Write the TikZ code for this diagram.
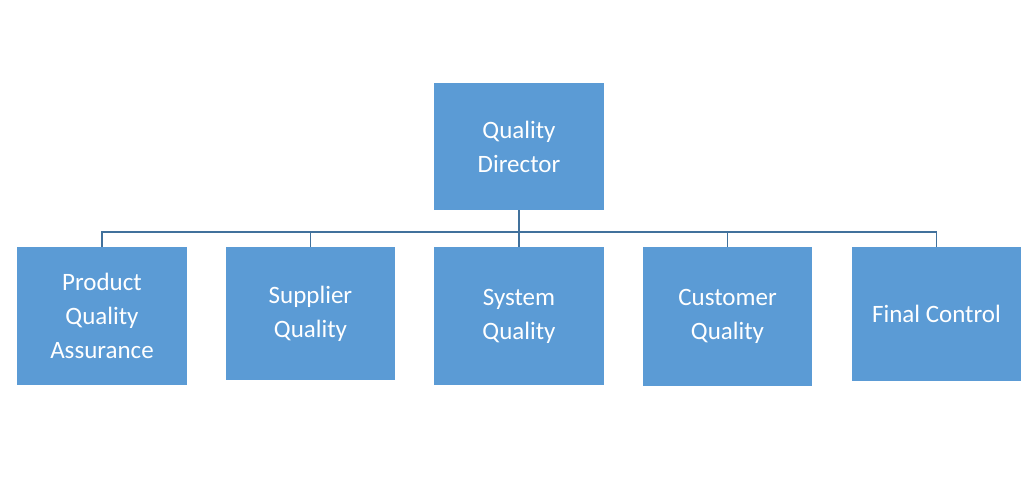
\documentclass[tikz,border=0pt]{standalone}
\usepackage{fontspec}
\setmainfont{Carlito}
\definecolor{boxfill}{HTML}{5B9BD5}
\definecolor{linec}{HTML}{41719C}
\begin{document}
\begin{tikzpicture}[x=1pt,y=-1pt,
  orgbox/.style={fill=boxfill,draw=none,text=white,align=center,font=\fontsize{25}{34}\selectfont,inner sep=0pt},
  conn/.style={draw=linec,line width=1.5pt}]
\useasboundingbox (0,0) rectangle (1024,493);
\node[orgbox,minimum width=170pt,minimum height=127pt] (top) at (519,146.5) {Quality\\Director};
\node[orgbox,minimum width=170pt,minimum height=138pt] (b1) at (102,316) {Product\\Quality\\Assurance};
\node[orgbox,minimum width=169pt,minimum height=133pt] (b2) at (310.5,313.5) {Supplier\\Quality};
\node[orgbox,minimum width=170pt,minimum height=138pt] (b3) at (519,316) {System\\Quality};
\node[orgbox,minimum width=169pt,minimum height=139pt] (b4) at (727.5,316.5) {Customer\\Quality};
\node[orgbox,minimum width=169pt,minimum height=134pt] (b5) at (936.5,314) {Final Control};
\coordinate (bus) at (0,232);
\draw[conn] (top.south) -- (b3.north);
\foreach \b in {b1,b2,b4,b5}{
  \draw[conn] (top.south) |- (\b.north |- bus) -- (\b.north);
}
\end{tikzpicture}
\end{document}
